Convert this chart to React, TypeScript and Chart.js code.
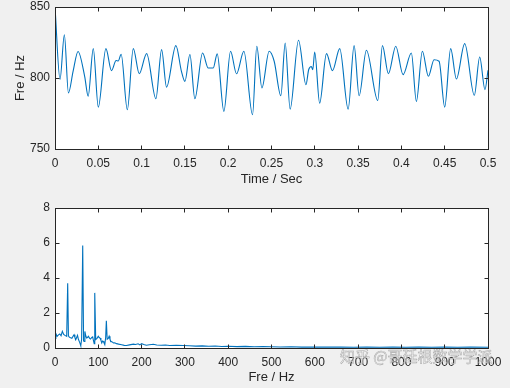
import React, { useEffect, useRef } from 'react';
import { Chart, registerables } from 'chart.js';

Chart.register(...registerables);

// ---- Data ----
const sigTime = [
  0, 0.0058, 0.0108, 0.0155, 0.021, 0.0266, 0.0343, 0.0383, 0.0442, 0.05,
  0.0588, 0.0652, 0.0706, 0.073, 0.0764, 0.0835, 0.0904, 0.0973, 0.1058, 0.1165,
  0.1231, 0.1288, 0.1396, 0.146, 0.15, 0.1558, 0.1615, 0.1704, 0.177, 0.1827,
  0.1873, 0.195, 0.2027, 0.2096, 0.2181, 0.2281, 0.233, 0.2389, 0.2473, 0.2531,
  0.2608, 0.2658, 0.2715, 0.2812, 0.2898, 0.2929, 0.296, 0.2976, 0.2999, 0.3056,
  0.3135, 0.3204, 0.3288, 0.3385, 0.3454, 0.3512, 0.3596, 0.3727, 0.3781, 0.385,
  0.3935, 0.4019, 0.4115, 0.4173, 0.4242, 0.4312, 0.4377, 0.4435, 0.45, 0.4569,
  0.4635, 0.4731, 0.4842, 0.4904, 0.4965, 0.5,
];
const sigValue = [
  850, 799, 830.5, 789.5, 805, 818.7, 801, 787.2, 820.7, 779.5,
  820.7, 805.2, 812.3, 812, 816.7, 777.6, 820.7, 803, 817.2, 785.4,
  820, 793.6, 822.8, 804.7, 797.6, 816.5, 785.4, 817.6, 807, 807,
  817, 776.5, 818.8, 803, 818.8, 774.1, 822.4, 793, 818.8, 811.8,
  787.5, 824.7, 778.1, 826.6, 795.2, 805.8, 808.1, 805.8, 818.2, 782.3,
  817.2, 805.2, 820.7, 778.1, 822.8, 787.5, 819.5, 784.2, 822.8, 803,
  822.4, 802.4, 817.6, 783.5, 818.8, 801.2, 812.9, 811.8, 779.5, 820.7,
  799.3, 824.2, 787.8, 814.8, 791.8, 805.4,
];

const specFreq = [
  0, 2, 5, 8, 11, 14, 17, 20, 23, 27, 29.3, 31, 33, 36, 39, 42, 44, 46, 48, 50,
  52, 54, 56, 58, 59.5, 61.5, 64, 66, 67.5, 69, 71, 73, 75, 77, 80, 82, 85, 87, 89, 90.5,
  91.8, 94, 97, 100, 102, 104, 106, 108, 110, 111.5, 113, 115, 117, 118.6, 120.5, 123, 125, 127, 129, 132,
  135, 138, 142, 147, 154, 160, 165, 172, 181, 186, 192, 196, 200, 205, 211, 218, 227, 235, 245, 255,
  265, 280, 296, 310, 325, 340, 355, 370, 385, 400, 420, 440, 460, 480, 500, 520, 545, 570, 600, 630,
  660, 690, 720, 750, 780, 810, 840, 870, 900, 930, 960, 1000,
];
const specAmp = [
  0.55, 0.82, 0.67, 0.75, 0.8, 0.7, 0.95, 0.78, 0.72, 0.67, 3.7, 0.7, 0.62, 0.58, 0.55, 0.68, 0.76, 0.6, 0.48, 0.6,
  0.72, 0.5, 0.38, 0.25, 0.13, 0.5, 5.85, 0.4, 0.38, 0.95, 0.7, 0.57, 0.6, 0.67, 0.55, 0.51, 0.6, 0.63, 0.4, 0.25,
  3.15, 0.48, 0.55, 0.67, 0.6, 0.57, 0.45, 0.29, 0.4, 0.38, 0.3, 0.19, 0.6, 1.55, 0.5, 0.55, 0.67, 0.5, 0.38, 0.35,
  0.29, 0.3, 0.25, 0.22, 0.19, 0.15, 0.14, 0.18, 0.22, 0.2, 0.24, 0.18, 0.25, 0.2, 0.16, 0.19, 0.21, 0.17, 0.16, 0.17,
  0.14, 0.15, 0.14, 0.13, 0.11, 0.12, 0.1, 0.11, 0.09, 0.1, 0.08, 0.09, 0.07, 0.08, 0.07, 0.06, 0.07, 0.05, 0.06, 0.05,
  0.06, 0.04, 0.05, 0.04, 0.05, 0.04, 0.05, 0.04, 0.05, 0.04, 0.05, 0.04,
];

const timeTicks = [0, 0.05, 0.1, 0.15, 0.2, 0.25, 0.3, 0.35, 0.4, 0.45, 0.5];
const freTicks = [750, 800, 850];
const freqTicks = [0, 100, 200, 300, 400, 500, 600, 700, 800, 900, 1000];
const ampTicks = [0, 2, 4, 6, 8];

const xTitleTop = 'Time / Sec';
const yTitleTop = 'Fre / Hz';
const xTitleBottom = 'Fre / Hz';
const watermark = '知乎 @哥廷根数学学派';

// ---- Styles ----
const LINE = '#0072BD';
const AXIS = '#262626';
const FONT = "'Liberation Sans', Arial, Helvetica, sans-serif";

const boxPlugin = {
  id: 'matlabBox',
  beforeDraw(chart: any) {
    const { ctx, chartArea: a } = chart;
    ctx.save();
    ctx.fillStyle = '#ffffff';
    ctx.fillRect(a.left, a.top, a.right - a.left, a.bottom - a.top);
    ctx.restore();
  },
  afterDraw(chart: any) {
    const { ctx, chartArea: a, scales } = chart;
    const L = Math.floor(a.left) + 0.5;
    const R = Math.floor(a.right) + 0.5;
    const T = Math.floor(a.top) + 0.5;
    const B = Math.floor(a.bottom) + 0.5;
    const tl = 4;
    ctx.save();
    ctx.strokeStyle = AXIS;
    ctx.lineWidth = 1;
    ctx.strokeRect(L, T, R - L, B - T);
    ctx.beginPath();
    scales.x.ticks.forEach((t: any) => {
      const x = Math.floor(scales.x.getPixelForValue(t.value)) + 0.5;
      ctx.moveTo(x, B);
      ctx.lineTo(x, B - tl);
      ctx.moveTo(x, T);
      ctx.lineTo(x, T + tl);
    });
    scales.y.ticks.forEach((t: any) => {
      const y = Math.floor(scales.y.getPixelForValue(t.value)) + 0.5;
      ctx.moveTo(L, y);
      ctx.lineTo(L + tl, y);
      ctx.moveTo(R, y);
      ctx.lineTo(R - tl, y);
    });
    ctx.stroke();
    ctx.restore();
  },
};

const fmt = (v: number) => String(Number(v.toFixed(3)));

function makeConfig(opts: {
  xs: number[]; ys: number[]; xTicks: number[]; yTicks: number[];
  xMin: number; xMax: number; yMin: number; yMax: number;
  xTitle: string; yTitle?: string; padTop: number; padBottom: number; xHeight: number;
  smooth: boolean;
}) {
  const data = opts.xs.map((x, i) => ({ x, y: opts.ys[i] }));
  return {
    type: 'line' as const,
    data: {
      datasets: [
        {
          data,
          borderColor: LINE,
          borderWidth: 1.1,
          pointRadius: 0,
          fill: false,
          tension: opts.smooth ? 0.4 : 0,
          cubicInterpolationMode: opts.smooth ? ('monotone' as const) : ('default' as const),
        },
      ],
    },
    options: {
      responsive: false,
      animation: false as const,
      events: [],
      layout: { padding: { left: 0, right: 22, top: opts.padTop, bottom: opts.padBottom } },
      plugins: { legend: { display: false }, tooltip: { enabled: false }, title: { display: false } },
      scales: {
        x: {
          type: 'linear' as const,
          min: opts.xMin,
          max: opts.xMax,
          grid: { display: false, drawTicks: false },
          border: { display: false },
          afterBuildTicks: (s: any) => { s.ticks = opts.xTicks.map((v) => ({ value: v })); },
          afterFit: (s: any) => {
            s.height = opts.xHeight;
            s.paddingLeft = 0;
            s.paddingRight = 0;
          },
          ticks: {
            color: AXIS,
            font: { family: FONT, size: 12 },
            padding: 7,
            maxRotation: 0,
            autoSkip: false,
            callback: (v: any) => fmt(Number(v)),
          },
          title: {
            display: true,
            text: opts.xTitle,
            color: AXIS,
            font: { family: FONT, size: 13 },
            padding: { top: 0, bottom: 0 },
          },
        },
        y: {
          type: 'linear' as const,
          min: opts.yMin,
          max: opts.yMax,
          grid: { display: false, drawTicks: false },
          border: { display: false },
          afterBuildTicks: (s: any) => { s.ticks = opts.yTicks.map((v) => ({ value: v })); },
          afterFit: (s: any) => {
            s.width = 55;
            s.paddingTop = 0;
            s.paddingBottom = 0;
          },
          ticks: {
            color: AXIS,
            font: { family: FONT, size: 12 },
            padding: 5,
            autoSkip: false,
            callback: (v: any) => fmt(Number(v)),
          },
          title: {
            display: !!opts.yTitle,
            text: opts.yTitle || '',
            color: AXIS,
            font: { family: FONT, size: 13 },
            padding: { top: 13, bottom: 0 },
          },
        },
      },
    },
    plugins: [boxPlugin],
  };
}

export default function App() {
  const topRef = useRef<HTMLCanvasElement | null>(null);
  const botRef = useRef<HTMLCanvasElement | null>(null);

  useEffect(() => {
    const c1 = new Chart(
      topRef.current as HTMLCanvasElement,
      makeConfig({
        xs: sigTime, ys: sigValue, xTicks: timeTicks, yTicks: freTicks,
        xMin: 0, xMax: 0.5, yMin: 750, yMax: 850,
        xTitle: xTitleTop, yTitle: yTitleTop, padTop: 7, padBottom: 8, xHeight: 38, smooth: true,
      }) as any
    );
    const c2 = new Chart(
      botRef.current as HTMLCanvasElement,
      makeConfig({
        xs: specFreq, ys: specAmp, xTicks: freqTicks, yTicks: ampTicks,
        xMin: 0, xMax: 1000, yMin: 0, yMax: 8,
        xTitle: xTitleBottom, padTop: 13, padBottom: 3, xHeight: 37, smooth: false,
      }) as any
    );
    return () => {
      c1.destroy();
      c2.destroy();
    };
  }, []);

  return (
    <div
      style={{
        position: 'fixed', left: 0, top: 0, width: 510, height: 388,
        background: '#f0f0f0', overflow: 'hidden',
      }}
    >
      <canvas ref={topRef} width={510} height={195}
        style={{ position: 'absolute', left: 0, top: 0, width: 510, height: 195 }} />
      <canvas ref={botRef} width={510} height={193}
        style={{ position: 'absolute', left: 0, top: 195, width: 510, height: 193 }} />
      <div
        style={{
          position: 'absolute', left: 340, top: 345, whiteSpace: 'nowrap',
          fontFamily: "'Noto Sans CJK SC', sans-serif", fontSize: 15,
          color: 'rgba(255,255,255,0.6)', WebkitTextStroke: '0.5px rgba(130,130,130,0.7)',
        }}
      >
        {watermark}
      </div>
    </div>
  );
}
